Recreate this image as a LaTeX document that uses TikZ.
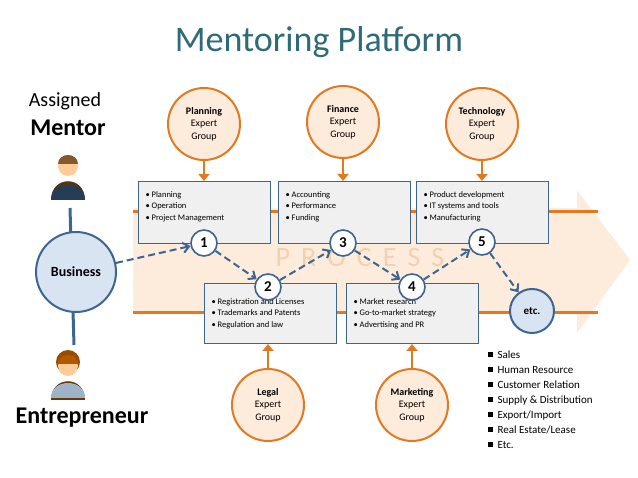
\documentclass[tikz,border=0pt]{standalone}
\usepackage{fontspec}
\setmainfont{Carlito}
\usetikzlibrary{arrows.meta,positioning}
\definecolor{titleteal}{HTML}{2E6B78}
\definecolor{procblue}{HTML}{3D6591}
\definecolor{lightblue}{HTML}{D9E4F2}
\definecolor{procorange}{HTML}{E3781E}
\definecolor{peach}{HTML}{FDEBDC}
\definecolor{boxgray}{HTML}{F0F0F0}
\tikzset{
  stepnum/.style={draw=procblue, line width=1.6pt, fill=white, circle, minimum size=26pt, inner sep=0pt, font=\fontsize{15}{15}\selectfont\bfseries},
  bigcirc/.style={draw=procblue, line width=2pt, fill=lightblue, circle, inner sep=0pt, font=\bfseries},
  expert/.style={draw=procorange, line width=2pt, fill=peach, circle, minimum size=72pt, inner sep=0pt, align=center, font=\fontsize{10}{12.5}\selectfont},
  task/.style={draw=procblue, line width=1pt, fill=boxgray, inner sep=4pt, font=\fontsize{8.5}{11.5}\selectfont},
  flow/.style={-{Straight Barb[length=6pt,width=10pt]}, draw=procblue, line width=2pt, dash pattern=on 7pt off 4pt},
  feed/.style={-{Triangle[length=7pt,width=11pt]}, draw=procorange, line width=2.5pt},
}
\newcommand{\bul}{\textbullet~}
\newcommand{\sq}{\rule[1pt]{5pt}{5pt}~~}
\newcommand{\tasktext}[3]{\parbox[t][#1][t]{124pt}{\hspace*{3pt}\rule{0pt}{#2}#3}}
\newcommand{\person}[3]{% x, y, hair colour
  \fill[#3!60!black] (#1-17,#2+30) .. controls (#1-17,#2+5) and (#1+17,#2+5) .. (#1+17,#2+30) -- cycle;
  \fill[orange!40!white] (#1,#2-4) circle (10);
  \fill[#3] (#1-10,#2-6) .. controls (#1-10,#2-18) and (#1+10,#2-18) .. (#1+10,#2-6) -- cycle;
}
\begin{document}
\begin{tikzpicture}[x=1pt,y=-1pt]
\useasboundingbox (0,0) rectangle (638,478);
% process arrow
\fill[peach] (133,208) -- (577,208) -- (577,190) -- (630,260) -- (577,333) -- (577,313) -- (133,313) -- cycle;
\draw[procorange, line width=3pt] (133,212) -- (598,212);
\draw[procorange, line width=3pt] (133,313) -- (598,313);
\node[text=procorange!35!white, font=\fontsize{28}{28}\selectfont] (proc) at (360,258) {P\, R\, O\, C\, E\, S\, S};
% title and people
\node[text=titleteal, font=\fontsize{36}{36}\selectfont] (title) at (319,42) {Mentoring Platform};
\node[font=\fontsize{20}{20}\selectfont] (assigned) at (65,101) {Assigned};
\node[font=\fontsize{24}{24}\selectfont\bfseries] (mentor) at (68,128) {Mentor};
\node[font=\fontsize{24}{24}\selectfont\bfseries] (entre) at (82,418) {Entrepreneur};
\draw[procblue, line width=3pt] (70,208) -- (74,345);
\node[bigcirc, minimum size=80pt] (business) at (76,272) {\fontsize{14}{14}\selectfont Business};
\person{68}{170}{brown!70!black}
\fill[procblue!60!black] (51,200) .. controls (51,180) and (85,180) .. (85,200) -- cycle;
\fill[orange!60!black] (68,362) circle (12);
\person{68}{370}{orange!70!black}
\fill[procblue!50!white] (51,398) .. controls (51,378) and (85,378) .. (85,398) -- cycle;
% task boxes
\node[task, anchor=north west] (plan) at (138,181) {\tasktext{54pt}{12pt}{\bul Planning\\\hspace*{3pt}\bul Operation\\\hspace*{3pt}\bul Project Management}};
\node[task, anchor=north west] (fin) at (278,181) {\tasktext{54pt}{12pt}{\bul Accounting\\\hspace*{3pt}\bul Performance\\\hspace*{3pt}\bul Funding}};
\node[task, anchor=north west] (tech) at (416,181) {\tasktext{54pt}{12pt}{\bul Product development\\\hspace*{3pt}\bul IT systems and tools\\\hspace*{3pt}\bul Manufacturing}};
\node[task, anchor=north west] (legal) at (204,283) {\tasktext{52pt}{17pt}{\bul Registration and Licenses\\\hspace*{3pt}\bul Trademarks and Patents\\\hspace*{3pt}\bul Regulation and law}};
\node[task, anchor=north west] (mark) at (346,283) {\tasktext{52pt}{17pt}{\bul Market research\\\hspace*{3pt}\bul Go-to-market strategy\\\hspace*{3pt}\bul Advertising and PR}};
% expert groups
\node[expert] (eplan) at (204,124) {\textbf{Planning}\\Expert\\Group};
\node[expert] (efin) at (343,122) {\textbf{Finance}\\Expert\\Group};
\node[expert] (etech) at (482,124) {\textbf{Technology}\\Expert\\Group};
\node[expert] (elegal) at (268,405) {\textbf{Legal}\\Expert\\Group};
\node[expert] (emark) at (412,405) {\textbf{Marketing}\\Expert\\Group};
\draw[feed] (eplan) -- (eplan |- plan.north);
\draw[feed] (efin) -- (efin |- fin.north);
\draw[feed] (etech) -- (etech |- tech.north);
\draw[feed] (elegal) -- (elegal |- legal.south);
\draw[feed] (emark) -- (emark |- mark.south);
% steps
\node[stepnum] (s1) at (204,243) {1};
\node[stepnum] (s2) at (268,287) {2};
\node[stepnum] (s3) at (343,243) {3};
\node[stepnum] (s4) at (412,287) {4};
\node[stepnum] (s5) at (482,242) {5};
\node[bigcirc, minimum size=44pt, font=\fontsize{11}{11}\selectfont\bfseries] (etc) at (532,311) {etc.};
\draw[flow] (business) -- (s1);
\draw[flow] (s1) -- (s2);
\draw[flow] (s2) -- (s3);
\draw[flow] (s3) -- (s4);
\draw[flow] (s4) -- (s5);
\draw[flow] (s5) -- (etc);
% other areas
\node[anchor=north west, align=left, font=\fontsize{11}{15}\selectfont] (areas) at (484,347)
  {\sq Sales\\\sq Human Resource\\\sq Customer Relation\\\sq Supply \& Distribution\\\sq Export/Import\\\sq Real Estate/Lease\\\sq Etc.};
\end{tikzpicture}
\end{document}
